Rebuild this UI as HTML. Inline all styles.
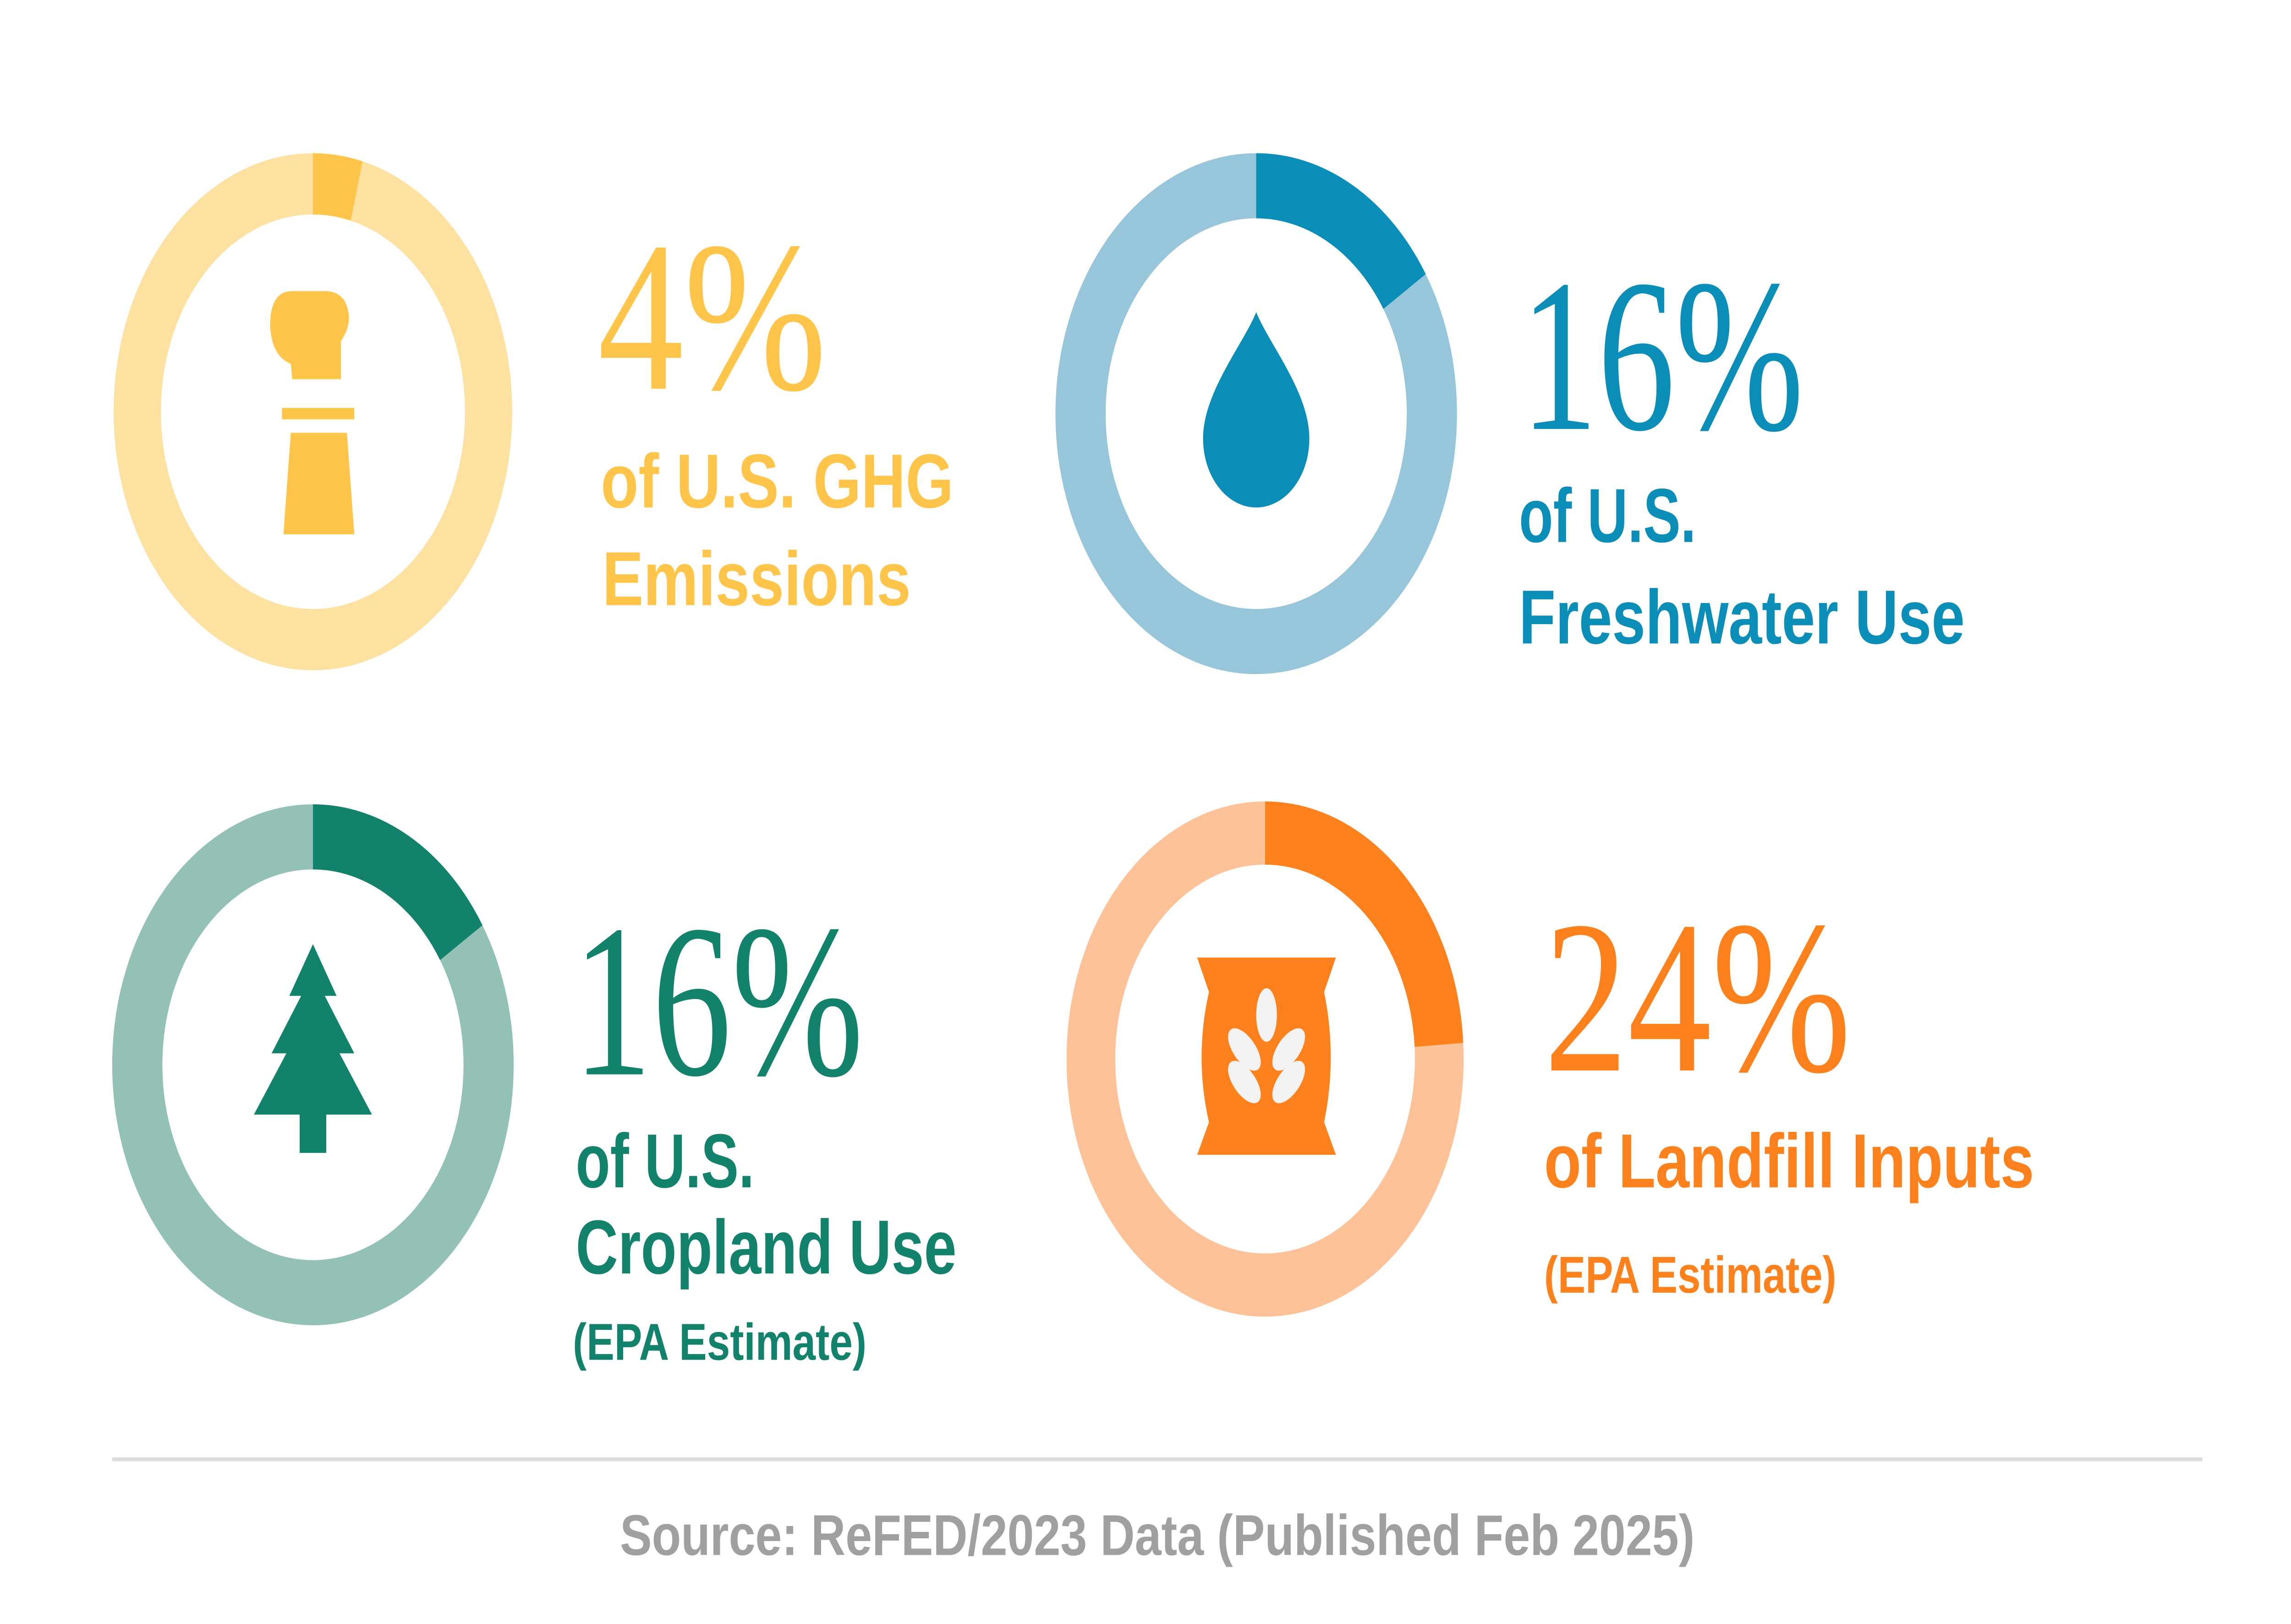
<!DOCTYPE html>
<html><head><meta charset="utf-8"><style>
html,body{margin:0;padding:0;background:#fff;width:100%;height:100%;overflow:hidden;}
svg{display:block;position:fixed;left:0;top:0;width:100vw;height:100vh;}
.big{font-family:"Liberation Serif",serif;}
.lab{font-family:"Liberation Sans",sans-serif;font-weight:bold;}
</style></head>
<body>
<svg id="chart" viewBox="0 0 1552 848" preserveAspectRatio="none" xmlns="http://www.w3.org/2000/svg">
<rect width="1552" height="848" fill="#fff"/>
<g id="donuts"></g>

<g fill="#FEC54A">
  <path d="M198,152 Q183,152 183,170 Q184,186 197,190 L198,198 L231,198 L231,178 Q240,168 234,158 Q230,152 220,152 Z"/>
  <rect x="191" y="213" width="49" height="6"/>
  <path d="M197,226 L235,226 L240,279 L192,279 Z"/>
</g>
<path fill="#0A8DB6" d="M851,163 C842,180 815,205 815,229 A36,36 0 0 0 887,229 C887,205 860,180 851,163 Z"/>
<g fill="#12826C">
  <path d="M212,493 L228,520 L220,520 L240,550 L230,550 L252,582 L172,582 L194,550 L184,550 L204,520 L196,520 Z"/>
  <rect x="203" y="580" width="18" height="22"/>
</g>
<g>
  <path fill="#FD821E" d="M811,500 L905,500 L897,518 Q906,552 897,586 L905,603 L811,603 L819,586 Q809,552 819,518 Z"/>
  <g fill="#F2F2F2">
    <ellipse cx="858" cy="530" rx="7" ry="14"/>
    <ellipse cx="843" cy="548" rx="7" ry="14" transform="rotate(-45 843 548)"/>
    <ellipse cx="873" cy="548" rx="7" ry="14" transform="rotate(45 873 548)"/>
    <ellipse cx="843" cy="565" rx="7" ry="14" transform="rotate(-45 843 565)"/>
    <ellipse cx="873" cy="565" rx="7" ry="14" transform="rotate(45 873 565)"/>
  </g>
</g>

<g fill="#FEC54A">
  <text class="big" x="405" y="203" font-size="112" textLength="155" lengthAdjust="spacingAndGlyphs">4%</text>
  <text class="lab" x="407" y="265" font-size="40" textLength="239" lengthAdjust="spacingAndGlyphs">of U.S. GHG</text>
  <text class="lab" x="408" y="316" font-size="40" textLength="209" lengthAdjust="spacingAndGlyphs">Emissions</text>
</g>
<g fill="#0A8DB6">
  <text class="big" x="1030" y="224" font-size="114" textLength="192" lengthAdjust="spacingAndGlyphs">16%</text>
  <text class="lab" x="1029" y="283" font-size="40" textLength="120" lengthAdjust="spacingAndGlyphs">of U.S.</text>
  <text class="lab" x="1029" y="336" font-size="40" textLength="302" lengthAdjust="spacingAndGlyphs">Freshwater Use</text>
</g>
<g fill="#12826C">
  <text class="big" x="388" y="561" font-size="114" textLength="197" lengthAdjust="spacingAndGlyphs">16%</text>
  <text class="lab" x="390" y="620" font-size="40" textLength="121" lengthAdjust="spacingAndGlyphs">of U.S.</text>
  <text class="lab" x="390" y="665" font-size="40" textLength="258" lengthAdjust="spacingAndGlyphs">Cropland Use</text>
  <text class="lab" x="388" y="710" font-size="27" textLength="199" lengthAdjust="spacingAndGlyphs">(EPA Estimate)</text>
</g>
<g fill="#FD821E">
  <text class="big" x="1046" y="559" font-size="114" textLength="208" lengthAdjust="spacingAndGlyphs">24%</text>
  <text class="lab" x="1046" y="620" font-size="40" textLength="332" lengthAdjust="spacingAndGlyphs">of Landfill Inputs</text>
  <text class="lab" x="1046" y="675" font-size="27" textLength="198" lengthAdjust="spacingAndGlyphs">(EPA Estimate)</text>
</g>

<line x1="76" y1="762" x2="1492" y2="762" stroke="#DCDCDC" stroke-width="2"/>
<text class="lab" x="420" y="812" font-size="30" fill="#A0A0A0" textLength="728" lengthAdjust="spacingAndGlyphs">Source: ReFED/2023 Data (Published Feb 2025)</text>
</svg>
<script>
const categories = ["ghg", "water", "cropland", "landfill"];
const percentValues = [4, 16, 16, 24];
const lightColors = ["#FDE1A1", "#97C6DA", "#93C1B5", "#FDC298"];
const darkColors = ["#FEC54A", "#0A8DB6", "#12826C", "#FD821E"];
const layout = [
  {cx: 212, cy: 215, r: 119, w: 32},
  {cx: 851, cy: 216, r: 119, w: 34},
  {cx: 212, cy: 556, r: 119, w: 34},
  {cx: 857, cy: 553, r: 118, w: 33}
];
const NS = "http://www.w3.org/2000/svg";
const g = document.getElementById("donuts");
function angle(p){ return p / 100 * 2 * Math.PI; }
function pt(c, a){ return [c.cx + c.r * Math.sin(a), c.cy - c.r * Math.cos(a)]; }
categories.forEach(function(cat, i){
  const c = layout[i];
  const ring = document.createElementNS(NS, "circle");
  ring.setAttribute("cx", c.cx); ring.setAttribute("cy", c.cy); ring.setAttribute("r", c.r);
  ring.setAttribute("fill", "none"); ring.setAttribute("stroke", lightColors[i]); ring.setAttribute("stroke-width", c.w);
  
  
  g.appendChild(ring);
  const a = angle(percentValues[i]);
  const p0 = pt(c, 0), p1 = pt(c, a);
  const large = percentValues[i] > 50 ? 1 : 0;
  const seg = document.createElementNS(NS, "path");
  seg.setAttribute("d", "M" + p0[0] + "," + p0[1] + " A" + c.r + "," + c.r + " 0 " + large + " 1 " + p1[0] + "," + p1[1]);
  seg.setAttribute("fill", "none"); seg.setAttribute("stroke", darkColors[i]); seg.setAttribute("stroke-width", c.w);
  
  
  g.appendChild(seg);
});
</script>
</body></html>
